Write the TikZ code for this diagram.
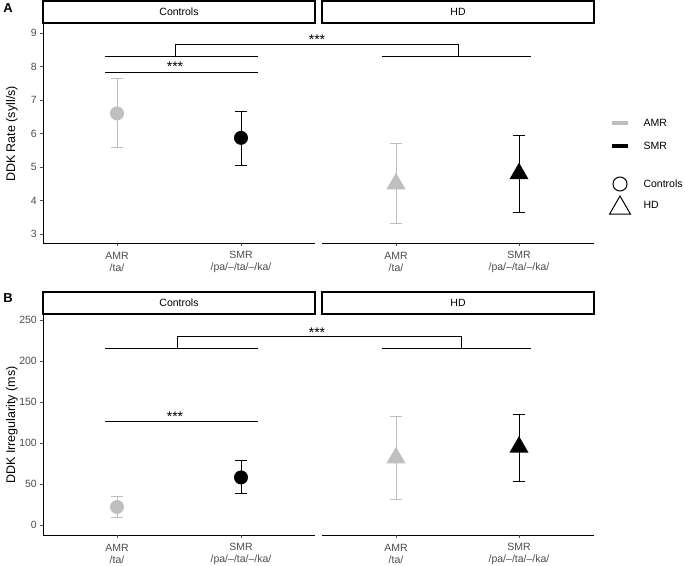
\documentclass[tikz,border=0pt]{standalone}
\usepackage{fontspec}
\setmainfont{Liberation Sans}
\usetikzlibrary{shapes.geometric}
\begin{document}
\begin{tikzpicture}[x=1pt,y=-1pt,
  lab/.style={font=\fontsize{10.5}{11.5}\selectfont,text=black!70,inner sep=1pt},
  strip/.style={draw,line width=1.2pt,fill=white,font=\fontsize{10.5}{12}\selectfont,minimum height=22pt,inner sep=0pt},
  eb/.style={line width=1pt},
  tk/.style={line width=0.5pt,black!70},
  sig/.style={line width=0.5pt},
  star/.style={font=\fontsize{14}{14}\selectfont,inner sep=0pt},
  leg/.style={font=\fontsize{10.5}{12}\selectfont,anchor=west},
  dot/.style={circle,inner sep=0pt,minimum size=14pt},
  tri/.style={regular polygon,regular polygon sides=3,inner sep=0pt,minimum size=22pt}]
\useasboundingbox (0,0) rectangle (685,565);
% ---------- Panel A ----------
\def\YA#1{234-(#1-3)*33.5}
\node[font=\bfseries\fontsize{13}{14}\selectfont] (lA) at (8,8) {A};
\node[strip,minimum width=272pt] (sA1) at (179,12) {Controls};
\node[strip,minimum width=272pt] (sA2) at (458,12) {HD};
\draw[line width=1pt] (43,23) -- (43,243) -- (315,243);
\draw[line width=1pt] (322,243) -- (594,243);
\foreach \v in {3,...,9}{
  \draw[tk] (40,{\YA{\v}}) -- (43,{\YA{\v}});
  \node[lab,anchor=east] (ya\v) at (38,{\YA{\v}}) {\v};}
\node[rotate=90,font=\fontsize{12.5}{14}\selectfont] (tA) at (12,134) {DDK Rate (syll/s)};
\foreach \x in {117,241,396,519}{\draw[tk] (\x,243)--(\x,246);}
\node[lab,align=center] (xa1) at (117,262) {AMR\\/ta/};
\node[lab,align=center] (xa2) at (241,262) {SMR\\/pa/\textendash/ta/\textendash/ka/};
\node[lab,align=center] (xa3) at (396,262) {AMR\\/ta/};
\node[lab,align=center] (xa4) at (519,262) {SMR\\/pa/\textendash/ta/\textendash/ka/};
\draw[eb,gray!50] (117,{\YA{5.57}}) -- (117,{\YA{7.65}}) (111,{\YA{5.57}}) -- (123,{\YA{5.57}}) (111,{\YA{7.65}}) -- (123,{\YA{7.65}});
\node[dot,fill=gray!50] (pA1) at (117,{\YA{6.6}}) {};
\draw[eb] (241,{\YA{5.05}}) -- (241,{\YA{6.67}}) (235,{\YA{5.05}}) -- (247,{\YA{5.05}}) (235,{\YA{6.67}}) -- (247,{\YA{6.67}});
\node[dot,fill=black] (pA2) at (241,{\YA{5.87}}) {};
\draw[eb,gray!50] (396,{\YA{3.32}}) -- (396,{\YA{5.70}}) (390,{\YA{3.32}}) -- (402,{\YA{3.32}}) (390,{\YA{5.70}}) -- (402,{\YA{5.70}});
\node[tri,fill=gray!50] (pA3) at (396,{\YA{4.5}}) {};
\draw[eb] (519,{\YA{3.65}}) -- (519,{\YA{5.95}}) (513,{\YA{3.65}}) -- (525,{\YA{3.65}}) (513,{\YA{5.95}}) -- (525,{\YA{5.95}});
\node[tri,fill=black] (pA4) at (519,{\YA{4.8}}) {};
\draw[sig] (105,72) -- (258,72);
\node[star] (sg1) at (175,67) {***};
\draw[sig] (105,56) -- (258,56) (382,56) -- (531,56);
\draw[sig] (175,56) -- (175,44) -- (458,44) -- (458,56);
\node[star] (sg2) at (317,40) {***};
% ---------- Panel B ----------
\def\YB#1{525-(#1)*0.82}
\node[font=\bfseries\fontsize{13}{14}\selectfont] (lB) at (8,298) {B};
\node[strip,minimum width=272pt] (sB1) at (179,303) {Controls};
\node[strip,minimum width=272pt] (sB2) at (458,303) {HD};
\draw[line width=1pt] (43,314) -- (43,535) -- (315,535);
\draw[line width=1pt] (322,535) -- (594,535);
\foreach \v in {0,50,...,250}{
  \draw[tk] (40,{\YB{\v}}) -- (43,{\YB{\v}});
  \node[lab,anchor=east] (yb\v) at (38,{\YB{\v}}) {\v};}
\node[rotate=90,font=\fontsize{12.5}{14}\selectfont] (tB) at (12,425) {DDK Irregularity (ms)};
\foreach \x in {117,241,396,519}{\draw[tk] (\x,535)--(\x,538);}
\node[lab,align=center] (xb1) at (117,554) {AMR\\/ta/};
\node[lab,align=center] (xb2) at (241,554) {SMR\\/pa/\textendash/ta/\textendash/ka/};
\node[lab,align=center] (xb3) at (396,554) {AMR\\/ta/};
\node[lab,align=center] (xb4) at (519,554) {SMR\\/pa/\textendash/ta/\textendash/ka/};
\draw[eb,gray!50] (117,{\YB{9}}) -- (117,{\YB{35}}) (111,{\YB{9}}) -- (123,{\YB{9}}) (111,{\YB{35}}) -- (123,{\YB{35}});
\node[dot,fill=gray!50] (pB1) at (117,{\YB{22}}) {};
\draw[eb] (241,{\YB{39}}) -- (241,{\YB{79}}) (235,{\YB{39}}) -- (247,{\YB{39}}) (235,{\YB{79}}) -- (247,{\YB{79}});
\node[dot,fill=black] (pB2) at (241,{\YB{58}}) {};
\draw[eb,gray!50] (396,{\YB{31}}) -- (396,{\YB{132}}) (390,{\YB{31}}) -- (402,{\YB{31}}) (390,{\YB{132}}) -- (402,{\YB{132}});
\node[tri,fill=gray!50] (pB3) at (396,{\YB{82}}) {};
\draw[eb] (519,{\YB{53}}) -- (519,{\YB{135}}) (513,{\YB{53}}) -- (525,{\YB{53}}) (513,{\YB{135}}) -- (525,{\YB{135}});
\node[tri,fill=black] (pB4) at (519,{\YB{95}}) {};
\draw[sig] (105,{\YB{126}}) -- (258,{\YB{126}});
\node[star] (sg3) at (175,{\YB{126}-5}) {***};
\draw[sig] (105,{\YB{215}}) -- (258,{\YB{215}}) (382,{\YB{215}}) -- (531,{\YB{215}});
\draw[sig] (177,{\YB{215}}) -- (177,{\YB{230}}) -- (461,{\YB{230}}) -- (461,{\YB{215}});
\node[star] (sg4) at (317,{\YB{230}-4}) {***};
% ---------- Legend ----------
\draw[line width=4pt,gray!50] (612,123) -- (628,123);
\node[leg] (lg1) at (640,123) {AMR};
\draw[line width=4pt] (612,146) -- (628,146);
\node[leg] (lg2) at (640,146) {SMR};
\node[circle,draw,line width=1pt,minimum size=14pt,inner sep=0pt] (lg3) at (620,184) {};
\node[leg] (lg3t) at (640,184) {Controls};
\node[regular polygon,regular polygon sides=3,draw,line width=1pt,minimum size=24pt,inner sep=0pt] (lg4) at (620,208) {};
\node[leg] (lg4t) at (640,205) {HD};
\end{tikzpicture}
\end{document}
